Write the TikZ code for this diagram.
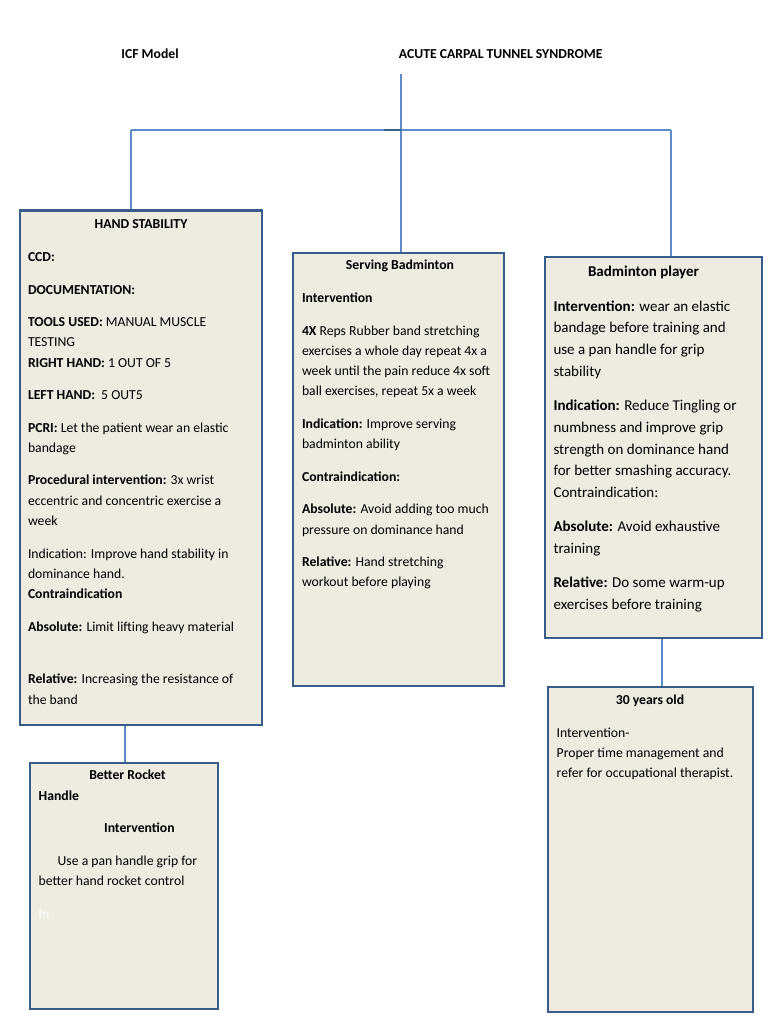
\documentclass[tikz,border=0pt]{standalone}
\usepackage{fontspec}
\setmainfont{Carlito}
\newcommand\bodyfont{\fontsize{13.7}{20.3}\selectfont}
\newcommand\bigbodyfont{\fontsize{15}{21.8}\selectfont}
\definecolor{boxfill}{HTML}{EEECE1}
\definecolor{boxline}{HTML}{385D8A}
\definecolor{connline}{HTML}{5B8BC9}
\begin{document}
\begin{tikzpicture}[x=1pt,y=-1pt,
  box/.style={draw=boxline, fill=boxfill, line width=2.5pt, rectangle, inner sep=0pt, anchor=north west},
  conn/.style={draw=connline, line width=1.1pt},
  txt/.style={inner sep=0pt, outer sep=0pt, align=left, anchor=north west, font=\bodyfont},
  ttl/.style={inner sep=0pt, outer sep=0pt, anchor=base, font=\bodyfont\bfseries}]
\useasboundingbox[fill=white] (0,0) rectangle (768,1024);

% titles
\node[ttl] (icf) at (150,58.5) {ICF Model};
\node[ttl] (acute) at (500.7,58.5) {ACUTE CARPAL TUNNEL SYNDROME};

% boxes
\node[box, minimum width=242pt, minimum height=514pt] (hs) at (18.5,209.5) {};
\node[box, minimum width=211pt, minimum height=433pt] (sb) at (291.5,251.5) {};
\node[box, minimum width=217pt, minimum height=381pt] (bp) at (543.5,255.5) {};
\node[box, minimum width=188pt, minimum height=246pt] (br) at (28.5,761.5) {};
\node[box, minimum width=205pt, minimum height=325pt] (yo) at (546.5,685.5) {};

% connectors
\coordinate (t0) at (401,74);
\coordinate (hub) at (401,130);
\coordinate (hl) at (131,130);
\coordinate (hr) at (671,130);
\coordinate (hk) at (384,130);
\coordinate (lx) at (125,0);
\coordinate (rx) at (662,0);
\draw[conn] (t0) -- (hub) -- (hub |- sb.north);
\draw[conn] (hl) -- (hr);
\draw[conn] (hl) -- (hl |- hs.north);
\draw[conn] (hr) -- (hr |- bp.north);
\draw[draw=boxline, line width=1.4pt] (hk) -- (hub);
\draw[conn] (lx |- hs.south) -- (lx |- br.north);
\draw[conn] (rx |- bp.south) -- (rx |- yo.north);

% HAND STABILITY
\node[ttl] (hs-t) at (141,228.5) {HAND STABILITY};
\node[txt] (hs-b) at (28,247.3) {\strut\textbf{CCD:}\\[12.2pt]
\textbf{DOCUMENTATION:}\\[12.2pt]
\textbf{TOOLS USED:} MANUAL MUSCLE\\
TESTING\\
\textbf{RIGHT HAND:} 1 OUT OF 5\\[12.2pt]
\textbf{LEFT HAND:}\ \ 5 OUT5\\[12.2pt]
\textbf{PCRI:} Let the patient wear an elastic\\
bandage\\[12.2pt]
\textbf{Procedural intervention:} 3x wrist\\
eccentric and concentric exercise a\\
week\\[12.2pt]
Indication: Improve hand stability in\\
dominance hand.\\
\textbf{Contraindication}\\[12.2pt]
\textbf{Absolute:} Limit lifting heavy material\\[32.5pt]
\textbf{Relative:} Increasing the resistance of\\
the band};

% Serving Badminton
\node[ttl] (sb-t) at (400,269.5) {Serving Badminton};
\node[txt] (sb-b) at (302,288.3) {\strut\textbf{Intervention}\\[12.2pt]
\textbf{4X} Reps Rubber band stretching\\
exercises a whole day repeat 4x a\\
week until the pain reduce 4x soft\\
ball exercises, repeat 5x a week\\[12.2pt]
\textbf{Indication:} Improve serving\\
badminton ability\\[12.2pt]
\textbf{Contraindication:}\\[12.2pt]
\textbf{Absolute:} Avoid adding too much\\
pressure on dominance hand\\[12.2pt]
\textbf{Relative:} Hand stretching\\
workout before playing};

% Badminton player
\node[ttl, font=\bigbodyfont\bfseries] (bp-t) at (643.5,276.5) {Badminton player};
\node[txt, font=\bigbodyfont] (bp-b) at (553.5,295.9) {\strut\textbf{Intervention:} wear an elastic\\
bandage before training and\\
use a pan handle for grip\\
stability\\[12.2pt]
\textbf{Indication:} Reduce Tingling or\\
numbness and improve grip\\
strength on dominance hand\\
for better smashing accuracy.\\
Contraindication:\\[12.2pt]
\textbf{Absolute:} Avoid exhaustive\\
training\\[12.2pt]
\textbf{Relative:} Do some warm-up\\
exercises before training};

% Better Rocket Handle
\node[ttl] (br-t) at (127.5,779.5) {Better Rocket};
\node[txt] (br-b) at (38.7,785.8) {\strut\textbf{Handle}\\[12.5pt]
\hspace*{65.4pt}\textbf{Intervention}\\[12.2pt]
\hspace*{19pt}Use a pan handle grip for\\
better hand rocket control\\[12.2pt]
\textcolor{white}{In}};

% 30 years old
\node[ttl] (yo-t) at (650,704.5) {30 years old};
\node[txt] (yo-b) at (556.7,722.8) {\strut Intervention-\\
Proper time management and\\
refer for occupational therapist.};
\end{tikzpicture}
\end{document}
